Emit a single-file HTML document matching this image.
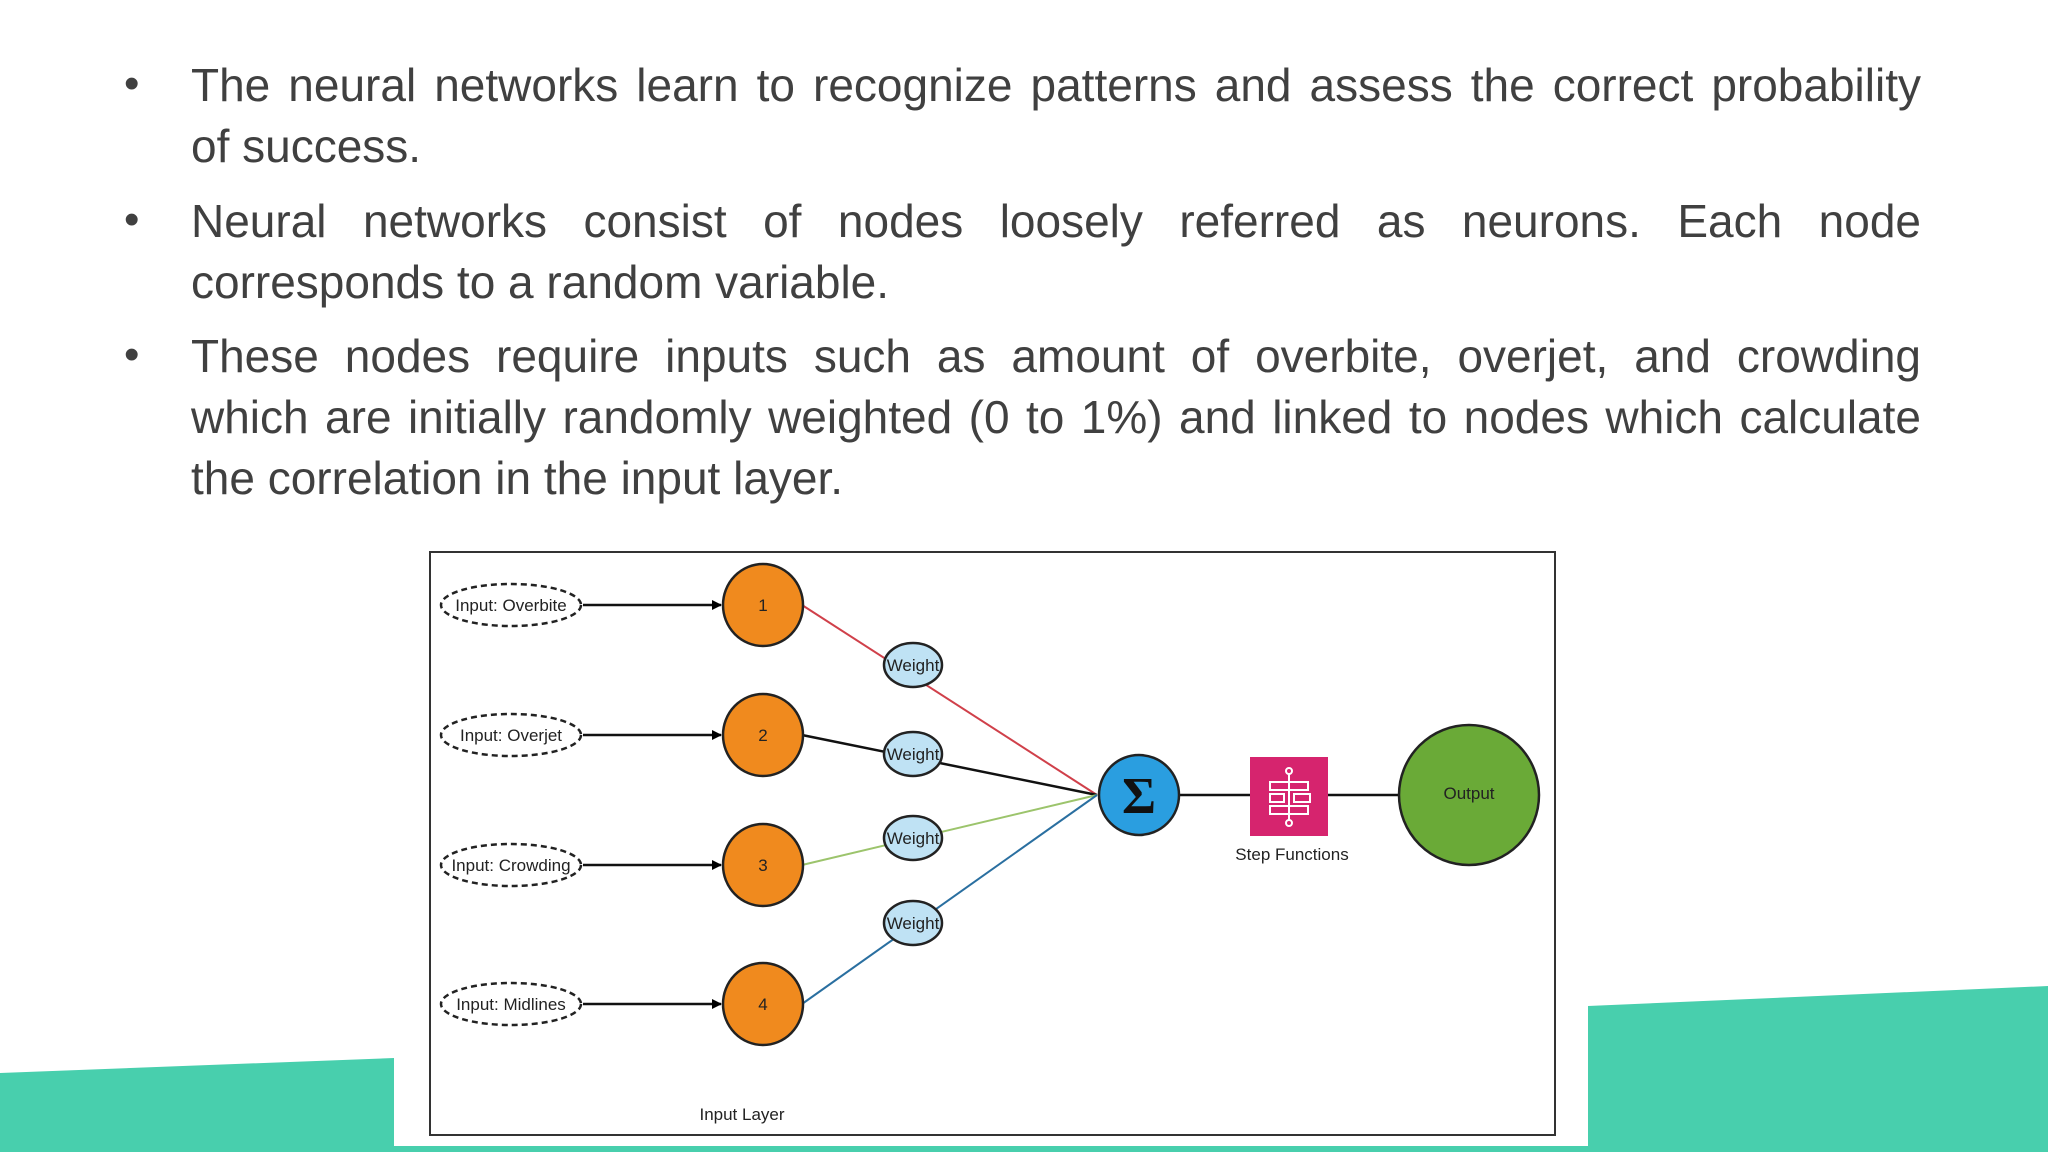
<!DOCTYPE html>
<html><head><meta charset="utf-8"><style>
body{margin:0;width:2048px;height:1152px;background:#fff;position:relative;overflow:hidden;font-family:"Liberation Sans",sans-serif;}
.t{position:absolute;left:191px;width:1730px;font-size:46px;color:#404040;line-height:61px;}
.l{white-space:nowrap;text-align:justify;text-align-last:justify;}
.l.e{text-align-last:left;}
.b{position:absolute;left:124px;font-size:44px;color:#404040;}
</style></head><body>
<svg width="2048" height="1152" style="position:absolute;left:0;top:0">
<polygon points="0,1073 394,1058 394,1152 0,1152" fill="#48cfad"/>
<polygon points="1588,1006 2048,986 2048,1152 1588,1152" fill="#48cfad"/>
<rect x="394" y="1146" width="1194" height="6" fill="#48cfad"/>
</svg>
<div class="b" style="top:59px">•</div>
<div class="b" style="top:195px">•</div>
<div class="b" style="top:330px">•</div>
<div class="t" style="top:55px">
<div class="l">The neural networks learn to recognize patterns and assess the correct probability</div>
<div class="l e">of success.</div></div>
<div class="t" style="top:191px">
<div class="l">Neural networks consist of nodes loosely referred as neurons. Each node</div>
<div class="l e">corresponds to a random variable.</div></div>
<div class="t" style="top:326px">
<div class="l">These nodes require inputs such as amount of overbite, overjet, and crowding</div>
<div class="l">which are initially randomly weighted (0 to 1%) and linked to nodes which calculate</div>
<div class="l e">the correlation in the input layer.</div></div>
<svg width="2048" height="1152" style="position:absolute;left:0;top:0" font-family="Liberation Sans, sans-serif">
<defs><marker id="a" markerWidth="10" markerHeight="10" refX="9" refY="5" orient="auto" markerUnits="userSpaceOnUse"><path d="M0,0 L10,5 L0,10 z" fill="#000"/></marker></defs>
<rect x="430" y="552" width="1125" height="583" fill="#fff" stroke="#333" stroke-width="2"/>
<g font-size="17" text-anchor="middle" fill="#222">
<g stroke="#111" stroke-width="2.5" fill="none">
<line x1="583" y1="605" x2="721" y2="605" marker-end="url(#a)"/>
<line x1="583" y1="735" x2="721" y2="735" marker-end="url(#a)"/>
<line x1="583" y1="865" x2="721" y2="865" marker-end="url(#a)"/>
<line x1="583" y1="1004" x2="721" y2="1004" marker-end="url(#a)"/>
</g>
<line x1="802" y1="605" x2="1097" y2="795" stroke="#d0404a" stroke-width="2"/>
<line x1="802" y1="735" x2="1097" y2="795" stroke="#111" stroke-width="2.5"/>
<line x1="802" y1="865" x2="1097" y2="795" stroke="#9cc46c" stroke-width="2"/>
<line x1="802" y1="1004" x2="1097" y2="795" stroke="#2a6fa0" stroke-width="2"/>
<line x1="1179" y1="795" x2="1398" y2="795" stroke="#111" stroke-width="2.5"/>
<g fill="#fff" stroke="#222" stroke-width="2.5" stroke-dasharray="6,4">
<ellipse cx="511" cy="605" rx="70" ry="21"/><ellipse cx="511" cy="735" rx="70" ry="21"/>
<ellipse cx="511" cy="865" rx="70" ry="21"/><ellipse cx="511" cy="1004" rx="70" ry="21"/>
</g>
<text x="511" y="611">Input: Overbite</text><text x="511" y="741">Input: Overjet</text>
<text x="511" y="871">Input: Crowding</text><text x="511" y="1010">Input: Midlines</text>
<g fill="#f08a1e" stroke="#222" stroke-width="2.5">
<ellipse cx="763" cy="605" rx="40" ry="41"/><ellipse cx="763" cy="735" rx="40" ry="41"/>
<ellipse cx="763" cy="865" rx="40" ry="41"/><ellipse cx="763" cy="1004" rx="40" ry="41"/>
</g>
<text x="763" y="611">1</text><text x="763" y="741">2</text><text x="763" y="871">3</text><text x="763" y="1010">4</text>
<g fill="#bfe2f4" stroke="#222" stroke-width="2.5">
<ellipse cx="913" cy="665" rx="29" ry="22"/><ellipse cx="913" cy="754" rx="29" ry="22"/>
<ellipse cx="913" cy="838" rx="29" ry="22"/><ellipse cx="913" cy="923" rx="29" ry="22"/>
</g>
<text x="913" y="671">Weight</text><text x="913" y="760">Weight</text><text x="913" y="844">Weight</text><text x="913" y="929">Weight</text>
<circle cx="1139" cy="795" r="40" fill="#2a9ee0" stroke="#222" stroke-width="2.5"/>
<text x="1139" y="813" font-size="52" font-family="Liberation Serif, serif" font-weight="bold" fill="#111">Σ</text>
<rect x="1250" y="757" width="78" height="79" fill="#d6246e"/>
<g stroke="#fff" stroke-width="2" fill="none">
<line x1="1289" y1="768" x2="1289" y2="826"/><circle cx="1289" cy="771" r="3" fill="#d6246e"/><circle cx="1289" cy="823" r="3" fill="#d6246e"/>
<rect x="1270" y="782" width="38" height="8"/><rect x="1270" y="794" width="14" height="8"/><rect x="1294" y="794" width="16" height="8"/><rect x="1270" y="806" width="38" height="8"/>
</g>
<text x="1292" y="860">Step Functions</text>
<circle cx="1469" cy="795" r="70" fill="#6aaa37" stroke="#222" stroke-width="2.5"/>
<text x="1469" y="799">Output</text>
<text x="742" y="1120">Input Layer</text>
</g>
</svg>
</body></html>
